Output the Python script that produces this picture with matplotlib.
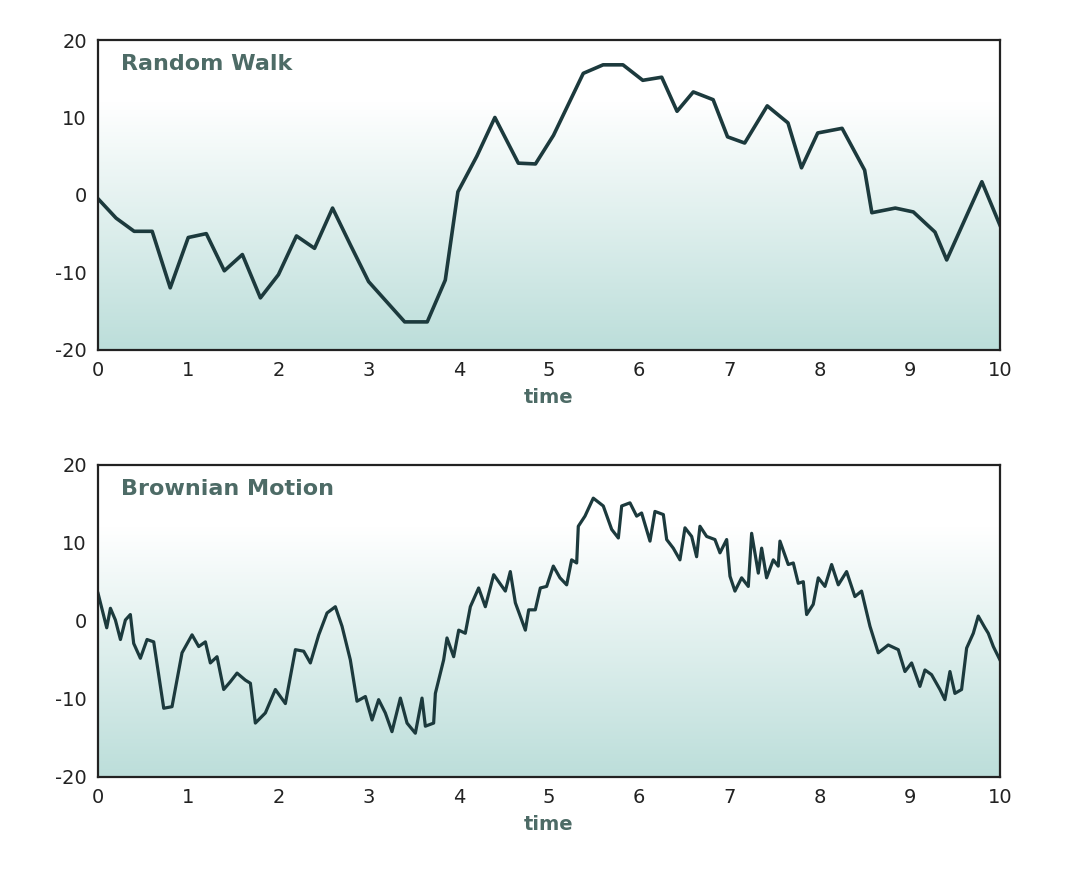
import numpy as np
import matplotlib
matplotlib.use("Agg")
import matplotlib.pyplot as plt
from matplotlib.colors import LinearSegmentedColormap

rw_t = [0, 0.2, 0.4, 0.6, 0.8, 1.0, 1.2, 1.4, 1.6, 1.8, 2.0, 2.2, 2.4, 2.6, 2.8, 3.0, 3.2, 3.4, 3.65, 3.85, 3.99,
        4.2, 4.4, 4.66, 4.85, 5.05, 5.38, 5.6, 5.82, 6.04, 6.25, 6.42, 6.6, 6.82, 6.98, 7.17, 7.42, 7.65, 7.8,
        7.98, 8.25, 8.5, 8.58, 8.84, 9.04, 9.28, 9.41, 9.8, 10.0]
rw_v = [-0.5, -3, -4.7, -4.7, -12, -5.5, -5, -9.8, -7.7, -13.3, -10.3, -5.3, -6.9, -1.7, -6.5, -11.2, -13.8, -16.4,
        -16.4, -11, 0.4, 5, 10, 4.1, 4.0, 7.7, 15.7, 16.8, 16.8, 14.8, 15.2, 10.8, 13.3, 12.3, 7.5, 6.7, 11.5, 9.3,
        3.5, 8, 8.6, 3.2, -2.3, -1.7, -2.2, -4.8, -8.4, 1.7, -3.9]

bm_t = [0.0, 0.096, 0.137, 0.192, 0.248, 0.303, 0.358, 0.395, 0.469, 0.543, 0.617, 0.691, 0.728, 0.82, 0.931,
        1.042, 1.116, 1.19, 1.245, 1.319, 1.393, 1.467, 1.541, 1.633, 1.689, 1.744, 1.855, 1.966, 2.077, 2.188,
        2.28, 2.354, 2.447, 2.539, 2.631, 2.705, 2.797, 2.871, 2.964, 3.038, 3.111, 3.185, 3.259, 3.352, 3.426,
        3.518, 3.592, 3.629, 3.721, 3.74, 3.832, 3.869, 3.943, 3.999, 4.072, 4.128, 4.22, 4.294, 4.387, 4.516,
        4.571, 4.627, 4.738, 4.775, 4.848, 4.904, 4.974, 5.048, 5.122, 5.196, 5.251, 5.307, 5.325, 5.399, 5.491,
        5.602, 5.695, 5.769, 5.806, 5.898, 5.972, 6.027, 6.12, 6.175, 6.268, 6.305, 6.378, 6.452, 6.508, 6.582,
        6.637, 6.674, 6.748, 6.84, 6.896, 6.97, 7.007, 7.062, 7.136, 7.21, 7.247, 7.321, 7.358, 7.413, 7.487,
        7.542, 7.561, 7.653, 7.709, 7.764, 7.82, 7.857, 7.93, 7.986, 8.06, 8.134, 8.208, 8.3, 8.392, 8.466,
        8.559, 8.651, 8.762, 8.873, 8.947, 9.021, 9.113, 9.169, 9.242, 9.335, 9.39, 9.446, 9.501, 9.575, 9.631,
        9.705, 9.76, 9.834, 9.871, 9.927, 10.0]
bm_v = [3.5, -0.9, 1.6, 0.1, -2.4, 0.1, 0.8, -2.9, -4.8, -2.4, -2.7, -8.4, -11.2, -11, -4.1,
        -1.8, -3.3, -2.7, -5.4, -4.6, -8.8, -7.8, -6.7, -7.6, -8, -13.1, -11.8, -8.8, -10.6, -3.7,
        -3.9, -5.4, -1.8, 1.0, 1.8, -0.7, -5, -10.3, -9.7, -12.7, -10.1, -11.8, -14.2, -9.9, -13.1,
        -14.4, -9.9, -13.5, -13.1, -9.3, -5, -2.2, -4.6, -1.2, -1.6, 1.8, 4.2, 1.8, 5.9, 3.8,
        6.3, 2.3, -1.2, 1.4, 1.4, 4.2, 4.4, 7.0, 5.5, 4.6, 7.8, 7.4, 12.1, 13.4, 15.7,
        14.7, 11.7, 10.6, 14.7, 15.1, 13.4, 13.8, 10.2, 14.0, 13.6, 10.4, 9.3, 7.8, 11.9, 10.8,
        8.2, 12.1, 10.8, 10.4, 8.7, 10.4, 5.7, 3.8, 5.5, 4.4, 11.2, 6.1, 9.3, 5.5, 7.8,
        7.0, 10.2, 7.2, 7.4, 4.8, 5.0, 0.8, 2.1, 5.5, 4.4, 7.2, 4.6, 6.3, 3.1, 3.8,
        -0.7, -4.1, -3.1, -3.7, -6.5, -5.4, -8.4, -6.3, -6.9, -8.8, -10.1, -6.5, -9.3, -8.8, -3.5,
        -1.6, 0.6, -0.9, -1.6, -3.3, -5.0]

titles = ["Random Walk", "Brownian Motion"]
xticks = list(range(0, 11))
yticks = [-20, -10, 0, 10, 20]

plt.rcParams["axes.unicode_minus"] = False
fig = plt.figure(figsize=(10.66, 8.9), dpi=100)
cmap = LinearSegmentedColormap.from_list("g", [(0, "#ffffff"), (0.2, "#ffffff"), (1, "#bcdeda")])
grad = np.linspace(1, 0, 256).reshape(-1, 1)
line_c = "#1c3a3d"
txt_c = "#4d6b66"
positions = [[0.092, 0.607, 0.846, 0.348], [0.092, 0.127, 0.846, 0.351]]
series = [(rw_t, rw_v, 2.6), (bm_t, bm_v, 2.3)]
for pos, title, (t, v, lw) in zip(positions, titles, series):
    ax = fig.add_axes(pos)
    ax.imshow(grad, extent=[0, 10, -20, 20], origin="lower", aspect="auto", cmap=cmap, zorder=0)
    ax.set_ylim(-20, 20)
    ax.set_xlim(0, 10)
    ax.plot(t, v, color=line_c, lw=lw, zorder=2)
    ax.set_xticks(xticks)
    ax.set_yticks(yticks)
    ax.tick_params(length=0, labelsize=14, colors="#222222", pad=8)
    for s in ax.spines.values():
        s.set_linewidth(1.6)
        s.set_color("#222222")
    ax.text(0.025, 0.955, title, transform=ax.transAxes, fontsize=16, fontweight="bold",
            color=txt_c, va="top", ha="left")
    ax.set_xlabel("time", fontsize=14, fontweight="bold", color=txt_c, labelpad=6)

fig.savefig("out.png", dpi=100)
